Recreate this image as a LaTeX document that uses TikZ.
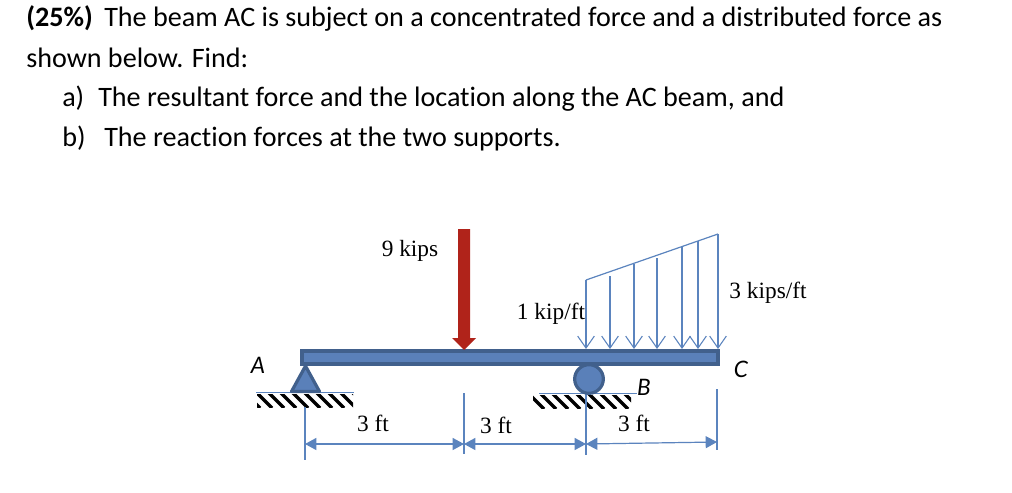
\documentclass[tikz,border=0pt]{standalone}
\usepackage{fontspec}
\setmainfont[Ligatures=NoCommon]{Carlito}
\newfontfamily\lblfont{Liberation Serif}
\newfontfamily\handfont{Lato}
\usetikzlibrary{arrows.meta}
\definecolor{beamfill}{HTML}{5A80B9}
\definecolor{beamedge}{HTML}{41608C}
\definecolor{linecol}{HTML}{5B84BE}
\definecolor{forcered}{HTML}{B0231A}
\tikzset{
  x=0.75pt,y=-0.75pt,
  heading/.style={anchor=base west,inner sep=0pt,font=\fontsize{21.1}{25}\selectfont},
  lbl/.style={anchor=base,inner sep=0pt,font=\lblfont\fontsize{17.5}{20}\selectfont},
  hand/.style={anchor=base,inner sep=0pt,font=\handfont\itshape\fontsize{17}{20}\selectfont},
  dimline/.style={draw=linecol,line width=0.9pt},
  dimarrow/.style={draw=linecol,line width=0.9pt,{Triangle[length=8.5pt,width=9pt,fill=linecol]}-{Triangle[length=8.5pt,width=9pt,fill=linecol]}},
  loadarrow/.style={draw=linecol,line width=0.9pt,-{Straight Barb[length=9pt,width=12.5pt,line width=0.8pt]}},
  struct/.style={draw=beamedge,fill=beamfill,line width=2.4pt},
  groundline/.style={draw=linecol,line width=0.9pt},
  hatchline/.style={draw=black,line width=2.4pt},
}
\begin{document}
\begin{tikzpicture}
\useasboundingbox (0,0) rectangle (1012,492);
\fill[white] (0,0) rectangle (1012,492);
% heading
\node[heading] (t1) at (26,27) {\textbf{(25\%)}\hspace{3.8pt} The beam AC is subject on a concentrated force and a distributed force as};
\node[heading] (t2) at (26,67) {shown below.  Find:};
\node[heading] (t3) at (62,106) {a)};
\node[heading] (t3b) at (98,106) {The resultant force and the location along the AC beam, and};
\node[heading] (t4) at (62,146) {b)};
\node[heading] (t4b) at (104,146) {The reaction forces at the two supports.};
% hatching
\begin{scope}
\clip (257,394) rectangle (353,407.5);
\foreach \i in {0,...,9} \draw[hatchline] ({244+\i*12},392) -- ({260+\i*12},408);
\end{scope}
\begin{scope}
\clip (533,395) rectangle (631,408);
\foreach \i in {0,...,9} \draw[hatchline] ({528+\i*12},393) -- ({544+\i*12},409);
\end{scope}
% ground
\coordinate (gal) at (256,392.5); \coordinate (gar) at (354,392.5);
\coordinate (gbl) at (539,393.5); \coordinate (gbr) at (637,393.5);
\draw[groundline] (gal) -- (gar);
\draw[groundline] (gbl) -- (gbr);
% dimension verticals
\coordinate (da1) at (305,407); \coordinate (da2) at (305,460);
\coordinate (db1) at (464,393); \coordinate (db2) at (464,454);
\coordinate (dc1) at (586,393); \coordinate (dc2) at (586,455);
\coordinate (dd1) at (717,389); \coordinate (dd2) at (717,450);
\draw[dimline] (da1) -- (da2);
\draw[dimline] (db1) -- (db2);
\draw[dimline] (dc1) -- (dc2);
\draw[dimline] (dd1) -- (dd2);
% dimension arrows
\coordinate (ar1) at (305,444); \coordinate (ar2) at (464,444);
\coordinate (ar3) at (586,444); \coordinate (ar4) at (717,442);
\draw[dimarrow] (ar1) -- (ar2);
\draw[dimarrow] (ar2) -- (ar3);
\draw[dimarrow] (ar3) -- (ar4);
% supports
\draw[struct,line join=round] (305.5,366) -- (319.5,391.5) -- (291.5,391.5) -- cycle;
\node[circle,struct,minimum size=21.5pt,inner sep=0pt] (roller) at (589,379) {};
% distributed load
\coordinate (l0) at (586,280); \coordinate (l6) at (718,234);
\draw[linecol,line width=0.9pt] (l0) -- (l6);
\foreach \x/\y in {586/280,610/276,634/264,657/258,682/247,698/241,718/234}
  \draw[loadarrow] (\x,\y) -- (\x,349);
% beam
\node[struct,line width=3pt,rectangle,minimum width=312pt,minimum height=10pt,inner sep=0pt] (beam) at (510,357.5) {};
% red force
\fill[forcered] (458,229) -- (470,229) -- (470,338) -- (476,338) -- (464,350) -- (452,338) -- (458,338) -- cycle;
% labels
\node[lbl] (k9) at (410,256) {9 kips};
\node[lbl] (k1) at (551,319) {1 kip/ft};
\node[lbl] (k3) at (768,298) {3 kips/ft};
\node[lbl] (f1) at (373,431) {3 ft};
\node[lbl] (f2) at (496,433) {3 ft};
\node[lbl] (f3) at (634,431) {3 ft};
\node[hand] (na) at (258,373) {A};
\node[hand] (nb) at (644,395) {B};
\node[hand] (nc) at (741,377) {C};
\end{tikzpicture}
\end{document}
